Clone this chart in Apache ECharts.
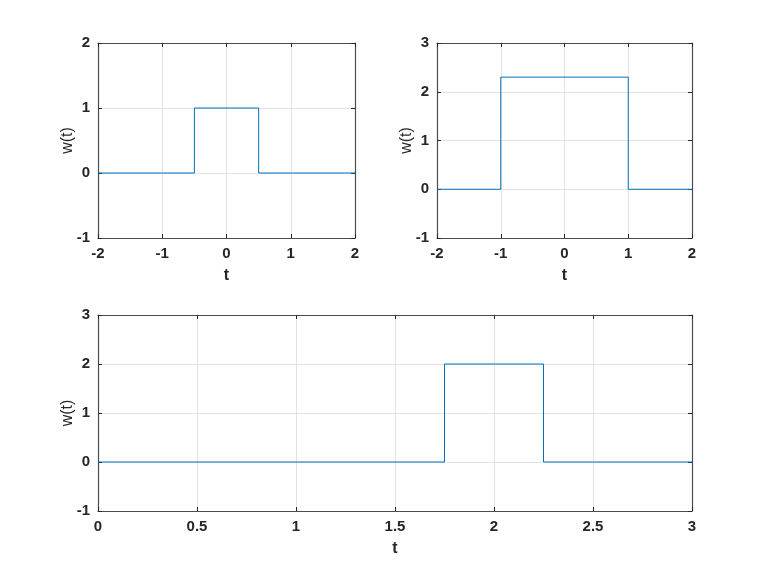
<!DOCTYPE html>
<html><head><meta charset="utf-8">
<script src="https://cdn.jsdelivr.net/npm/echarts@6/dist/echarts.min.js"></script>
<style>html,body{margin:0;padding:0;background:#fff}#c{width:766px;height:575px}</style>
</head><body><div id="c"></div>
<script>
// Plot 1: rect pulse width 1, height 1
const t1 = [-2, -0.5, -0.5, 0.5, 0.5, 2];
const w1 = [0, 0, 1, 1, 0, 0];
// Plot 2: rect pulse width 2, height 2.3
const t2 = [-2, -1, -1, 1, 1, 2];
const w2 = [0, 0, 2.3, 2.3, 0, 0];
// Plot 3: rect pulse from 1.75 to 2.25, height 2
const t3 = [0, 1.75, 1.75, 2.25, 2.25, 3];
const w3 = [0, 0, 2, 2, 0, 0];

const xTicks1 = [-2, 2, 1];
const yTicks1 = [-1, 2, 1];
const xTicks2 = [-2, 2, 1];
const yTicks2 = [-1, 3, 1];
const xTicks3 = [0, 3, 0.5];
const yTicks3 = [-1, 3, 1];

const xName = 't';
const yName = 'w(t)';

const FONT = 'Liberation Sans, Arial, sans-serif';
const axisCol = '#262626';
const frameCol = '#4d4d4d';
const gridCol = '#e3e3e3';
const lineCol = '#0072BD';

const grids = [
  {left: 98, top: 43, width: 257, height: 195},
  {left: 437, top: 43, width: 255, height: 195},
  {left: 98, top: 315, width: 594, height: 196}
];

function pairs(t, w){ return t.map((v,i)=>[v, w[i]]); }

const xAxis = [], yAxis = [], series = [];
const specs = [
  {xt: xTicks1, yt: yTicks1, t: t1, w: w1},
  {xt: xTicks2, yt: yTicks2, t: t2, w: w2},
  {xt: xTicks3, yt: yTicks3, t: t3, w: w3}
];
specs.forEach((s, i) => {
  const base = {
    gridIndex: i, type: 'value',
    axisLine: {show: true, onZero: false, lineStyle: {color: frameCol, width: 1.2}},
    axisTick: {show: true, inside: true, length: 4, lineStyle: {color: axisCol}},
    splitLine: {show: false}
  };
  xAxis.push(Object.assign({}, base, {
    position: 'bottom', min: s.xt[0], max: s.xt[1], interval: s.xt[2],
    splitLine: {show: true, lineStyle: {color: gridCol, width: 1}},
    axisLabel: {show: true, color: '#262626', fontFamily: FONT, fontWeight: 'bold', fontSize: 15, margin: 8},
    name: xName, nameLocation: 'middle', nameGap: 30, nameMoveOverlap: false,
    nameTextStyle: {color: '#262626', fontFamily: FONT, fontWeight: 'bold', fontSize: 16}
  }));
  xAxis.push(Object.assign({}, base, {
    position: 'top', min: s.xt[0], max: s.xt[1], interval: s.xt[2],
    axisLabel: {show: false}
  }));
  yAxis.push(Object.assign({}, base, {
    position: 'left', min: s.yt[0], max: s.yt[1], interval: s.yt[2],
    splitLine: {show: true, lineStyle: {color: gridCol, width: 1}},
    axisLabel: {show: true, color: '#262626', fontFamily: FONT, fontWeight: 'bold', fontSize: 15, margin: 8},
    name: yName, nameLocation: 'middle', nameGap: 22, nameRotate: 90, nameMoveOverlap: false,
    nameTextStyle: {color: '#262626', fontFamily: FONT, fontWeight: 'normal', fontSize: 16}
  }));
  yAxis.push(Object.assign({}, base, {
    position: 'right', min: s.yt[0], max: s.yt[1], interval: s.yt[2],
    axisLabel: {show: false}
  }));
  series.push({
    type: 'line', xAxisIndex: 2*i, yAxisIndex: 2*i,
    data: pairs(s.t, s.w), showSymbol: false, symbol: 'none',
    lineStyle: {color: lineCol, width: 1}, animation: false
  });
});

const chart = echarts.init(document.getElementById('c'));
chart.setOption({
  backgroundColor: '#fff',
  animation: false,
  grid: grids,
  xAxis: xAxis,
  yAxis: yAxis,
  series: series
});
</script></body></html>
